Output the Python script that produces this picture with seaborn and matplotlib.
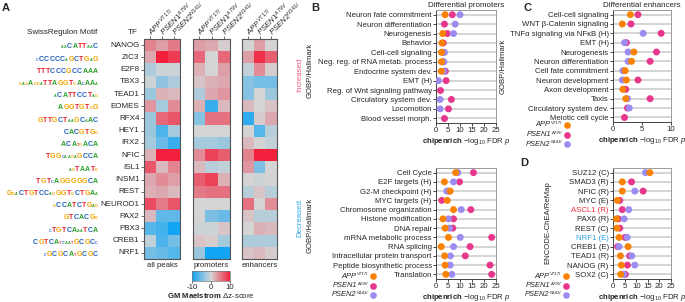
import numpy as np
import pandas as pd
import matplotlib
matplotlib.use("Agg")
import matplotlib.pyplot as plt
from matplotlib.colors import LinearSegmentedColormap
from matplotlib.lines import Line2D
import seaborn as sns

nan = np.nan

# ---- panel A: motif heatmaps ----
tfs = ["NANOG", "ZIC3", "E2F8", "TBX3", "TEAD1", "EOMES", "RFX4", "HEY1", "IRX2",
       "NFIC", "ISL1", "INSM1", "REST", "NEUROD1", "PAX2", "PBX3", "CREB1", "NRF1"]
motifs = ["aaCATTaaC", "cCCCCCaGCTGaG", "TTTCCCGCCAAA", "gagAggaTTAGGTgAcAAa",
          "aCATTCCTag", "AGGTGTgG", "GTTGCTaaGCaAC", "CACGTGg", "ACAtgACA",
          "TGGcaagaGCCA", "agTAATg", "TGTcAGGGGGCA", "GgaCTGTCCagGGTgCTGAa",
          "gCCATCTGag", "GTCACGg", "cTGTCAaaTCA", "CGTCAtcaatGCGCc", "cGCGCAtGCGC"]
genotypes = ["APP", "PSEN1", "PSEN2"]
mutations = ["V717I", "A79V", "N141I"]
geno_labels = [r"$\mathit{APP}^{\mathit{V717I}}$",
               r"$\mathit{PSEN1}^{\mathit{A79V}}$",
               r"$\mathit{PSEN2}^{\mathit{N141I}}$"]

allpeaks = [[4.5, 3, 5], [2.5, 10, 8.5], [-2, -0.5, -0.5], [-0.5, -3.5, -2],
            [-3, 2, 1.5], [3.5, -2.5, 4], [-3, 6, 7], [-3, -7, -2.5],
            [-2.5, -5.5, -8], [2, 10, 10], [7, 1.5, 4.5], [2.5, 4, 3],
            [2, 2.5, 1.5], [7.5, 5, 7], [1.5, -6, -6], [-6.5, -7.5, -10],
            [-1, -7, -5], [-5, -5.5, -6.5]]
promoters = [[3, 2.5, 0.5], [6, 0, 6], [2, 0, 3], [1, 2, 2.5],
             [-2, 2.5, 3.5], [2, -8, 1.5], [-4, 5.5, 5.5], [0, 0, 0],
             [-2.5, -2.5, -3], [4, 8, 6.5], [1.5, -1.5, -1], [6.5, 8, 2],
             [5, 5.5, 5.5], [0, 0, 0], [0, -4.5, -5.5], [-0.5, -0.5, 1],
             [1, 0.5, -2.5], [-3, -10, -10]]
enhancers = [[0, 3, 0], [3, 9, 6.5], [-1, 4, 0.5], [-4, -5, -5],
             [-4, 0, -3], [1.5, 0, 1], [-8.5, 0.5, 2.5], [0, -6.5, -1.5],
             [1.5, 0, -1], [4.5, 10, 10], [3.5, -4.5, 0], [0, -0.5, 0],
             [-1.5, 1, -1.5], [5.5, 0, 4], [1, -1.5, -1.5], [0, 2, 1.5],
             [-2, -2, -2], [1, 1.5, 0.5]]

# ---- panel B: differential promoters ----
prom_up_terms = ["Neuron fate commitment", "Neuron differentiation", "Neurogenesis",
                 "Behavior", "Cell-cell signaling", "Neg. reg. of RNA metab. process",
                 "Endocrine system dev.", "EMT (H)", "Reg. of Wnt signaling pathway",
                 "Circulatory system dev.", "Locomotion", "Blood vessel morph."]
prom_up_app = [3.8, nan, 2.8, 2.5, 2.3, 2.3, 2.2, nan, nan, nan, nan, nan]
prom_up_psen1 = [6.8, 3.5, 4.7, 3.0, 3.2, 2.8, 3.9, 4.2, 1.7, 6.4, 5.2, 3.5]
prom_up_psen2 = [10.0, 8.0, 7.3, nan, 3.5, 3.3, 3.3, 1.0, nan, 1.7, 1.7, nan]

prom_down_terms = ["Cell Cycle", "E2F targets (H)", "G2-M checkpoint (H)", "MYC targets (H)",
                   "Chromosome organization", "Histone modification", "DNA repair",
                   "mRNA metabolic process", "RNA splicing", "Intracellular protein transport",
                   "Peptide biosynthetic process", "Translation"]
prom_down_app = [8.2, 3.5, 5.9, 4.7, 7.3, 2.9, 3.8, 5.2, 2.2, 3.6, 3.8, 4.1]
prom_down_psen1 = [15.6, 9.8, 5.3, 2.4, 14.5, 7.3, 7.0, 23.2, 14.2, 12.2, 22.5, 23.2]
prom_down_psen2 = [9.1, 7.3, 4.5, nan, 10.5, 5.2, 5.6, 10.1, 7.3, 6.0, 5.9, 6.6]

# ---- panel C: differential enhancers ----
enh_terms = ["Cell-cell signaling", "WNT β-Catenin signaling", "TNFα signaling via NFκB (H)",
             "EMT (H)", "Neurogenesis", "Neuron differentiation", "Cell fate commitment",
             "Neuron development", "Axon development", "Taxis", "Circulatory system dev.",
             "Meiotic cell cycle"]
enh_app = [3.0, 1.6, nan, nan, 3.6, 3.2, 2.1, 2.3, 1.7, 2.2, nan, nan]
enh_psen1 = [4.3, 3.1, 8.3, 2.3, 7.5, 6.4, nan, 4.3, 2.2, 6.4, 2.5, 1.85]
enh_psen2 = [nan, nan, 5.2, 2.0, 2.6, 2.6, 1.7, 1.6, nan, 2.5, 2.8, nan]

# ---- panel D: ENCODE-ChEA/ReMap ----
tf_terms = ["SUZ12 (C)", "SMAD3 (R)", "NFIC (R)", "MYC (E)", "ASCL1 (R)", "PAX6 (R)",
            "REST (C)", "NRF1 (E)", "CREB1 (E)", "TEAD1 (R)", "NANOG (R)", "SOX2 (C)"]
tf_app = [15.9, 4.0, 4.0, 1.9, nan, 1.5, 1.7, 2.6, 6.5, 3.2, 3.6, 3.3]
tf_psen1 = [nan, 8.0, 13.0, 2.9, 4.0, 2.3, 2.9, 5.2, 2.0, 7.2, 6.2, 5.3]
tf_psen2 = [14.0, nan, 9.4, nan, 6.8, 4.8, nan, 6.1, 2.6, 8.1, 9.4, 4.6]

palette = {"APP": "#f98200", "PSEN1": "#e6378c", "PSEN2": "#9c8cf2"}
base_colors = {"A": "#2ca02c", "C": "#1f5fc0", "G": "#f5a300", "T": "#e8202a"}

sns.set_style("ticks")
plt.rcParams["font.family"] = ["Liberation Sans", "DejaVu Sans"]
plt.rcParams["mathtext.fontset"] = "custom"
plt.rcParams["mathtext.rm"] = "Liberation Sans"
plt.rcParams["mathtext.it"] = "Liberation Sans:italic"
plt.rcParams["mathtext.bf"] = "Liberation Sans:bold"
plt.rcParams["axes.unicode_minus"] = False
plt.rcParams["font.size"] = 5.6

W, H = 685, 302
fig = plt.figure(figsize=(W / 100, H / 100), dpi=100)
renderer = fig.canvas.get_renderer()


def px_axes(left, top, right, bottom):
    return fig.add_axes([left / W, 1 - bottom / H, (right - left) / W, (bottom - top) / H])


def ftext(x, y, s, **kw):
    return fig.text(x / W, 1 - y / H, s, **kw)


cmap = LinearSegmentedColormap.from_list("bgr", ["#12a5f4", "#d5d5d5", "#f2203c"])

# heatmaps
hm_top, hm_bot = 39, 259
panels = [("all peaks", allpeaks, 144, 180), ("promoters", promoters, 193, 230),
          ("enhancers", enhancers, 242, 277)]
mappable = None
for i, (name, vals, x0, x1) in enumerate(panels):
    ax = px_axes(x0, hm_top, x1, hm_bot)
    df = pd.DataFrame(vals, index=tfs, columns=genotypes)
    sns.heatmap(df, ax=ax, cmap=cmap, vmin=-10, vmax=10, cbar=False,
                xticklabels=geno_labels, yticklabels=tfs if i == 0 else False)
    mappable = ax.collections[0]
    ax.xaxis.tick_top()
    ax.set_xticklabels(geno_labels, rotation=45, ha="left", va="center",
                       rotation_mode="anchor", fontsize=5.6)
    ax.tick_params(axis="x", length=2, width=0.6, pad=1.5, color="#555555")
    if i == 0:
        ax.set_yticklabels(tfs, rotation=0, fontsize=5.8)
        ax.tick_params(axis="y", length=2.2, width=0.6, pad=1, color="#555555")
    else:
        ax.tick_params(axis="y", length=0)
    ax.set_xlabel(name, fontsize=5.6, labelpad=2)
    ax.xaxis.set_label_position("bottom")
    ax.set_ylabel("")
    for sp in ax.spines.values():
        sp.set_visible(True)
        sp.set_color("#555555")
        sp.set_linewidth(0.8)

cax = px_axes(192, 271, 230, 281)
cb = fig.colorbar(mappable, cax=cax, orientation="horizontal", ticks=[-10, 0, 10])
cb.outline.set_edgecolor("#777777")
cb.outline.set_linewidth(0.5)
cax.tick_params(labelsize=5.6, length=1.5, width=0.5, pad=1)
ftext(211, 296, r"$\mathbf{GM\ Maelstrom}$ Δz-score", ha="center", va="center", fontsize=5.6)

# motif logos as coloured consensus letters, laid out right to left
row_h = (hm_bot - hm_top) / len(tfs)
for i, seq in enumerate(motifs):
    base = hm_top + (i + 0.5) * row_h + 3.2
    x = 98
    for c in reversed(seq):
        size = 5.0 if c.isupper() else 2.7
        t = ftext(x, base, c.upper(), color=base_colors[c.upper()],
                  fontsize=size, fontweight="bold", ha="right", va="baseline")
        x -= t.get_window_extent(renderer).width + 0.3

ftext(62, 33, "SwissRegulon Motif", ha="center", va="center", fontsize=5.8)
ftext(133, 33, "TF", ha="center", va="center", fontsize=5.8)


# dot plots
def dot_panel(ax, terms, app, psen1, psen2, xmax, xticks):
    n = len(terms)
    df = pd.DataFrame({
        "term": terms * 3,
        "value": psen1 + psen2 + app,
        "geno": ["PSEN1"] * n + ["PSEN2"] * n + ["APP"] * n,
    }).dropna()
    sns.stripplot(data=df, x="value", y="term", hue="geno", order=terms,
                  palette=palette, jitter=False, size=5, linewidth=0,
                  ax=ax, legend=False, zorder=3)
    ax.set_xlim(0, xmax)
    ax.set_xticks(xticks)
    ax.yaxis.grid(True, color="#d4d4d4", lw=1.4)
    ax.xaxis.grid(False)
    ax.set_axisbelow(True)
    ax.set_ylabel("")
    ax.set_xlabel(r"$\mathbf{chipenrich}$ $-$log$_{10}$ FDR $p$", fontsize=5.6, labelpad=1)
    ax.tick_params(labelsize=5.6, length=2, width=0.6, pad=1)
    for side in ["left", "bottom"]:
        ax.spines[side].set_color("#444444")
        ax.spines[side].set_linewidth(0.7)
    for side in ["top", "right"]:
        ax.spines[side].set_visible(True)
        ax.spines[side].set_color("#9a9a9a")
        ax.spines[side].set_linewidth(0.7)


def key(x_marker, y_first, step=9.5):
    # gene name in italics with the mutation as a small raised text
    for j, g in enumerate(genotypes):
        y = y_first + j * step
        sup = ftext(x_marker - 5, y + 0.3, mutations[j], ha="right", va="bottom",
                    fontsize=3.2, style="italic")
        w = sup.get_window_extent(renderer).width
        ftext(x_marker - 5 - w, y, g, ha="right", va="center", fontsize=5.4, style="italic")
        fig.add_artist(Line2D([x_marker / W], [1 - y / H], transform=fig.transFigure,
                              marker="o", ms=4.8, mew=0, color=palette[g], ls=""))


axb1 = px_axes(436, 10, 496, 123)
dot_panel(axb1, prom_up_terms, prom_up_app, prom_up_psen1, prom_up_psen2, 25, [0, 5, 10, 15, 20, 25])
axb1.set_title("Differential promoters", fontsize=5.8, pad=2)

axb2 = px_axes(436, 168, 496, 279)
dot_panel(axb2, prom_down_terms, prom_down_app, prom_down_psen1, prom_down_psen2, 25, [0, 5, 10, 15, 20, 25])
key(373, 276)

axc = px_axes(613, 10, 671, 122)
dot_panel(axc, enh_terms, enh_app, enh_psen1, enh_psen2, 10, [0, 5, 10])
axc.set_title("Differential enhancers", fontsize=5.8, pad=2)
key(567, 125)

axd = px_axes(613, 168, 671, 279)
dot_panel(axd, tf_terms, tf_app, tf_psen1, tf_psen2, 25, [0, 5, 10, 15, 20, 25])
for lab in axd.get_yticklabels():
    if lab.get_text() == "ASCL1 (R)":
        lab.set_color("#f0303c")
    elif lab.get_text() == "NRF1 (E)":
        lab.set_color("#2a9fe0")
key(566, 276)

# side labels
ftext(310, 70, "GOBP/Hallmark", rotation=90, ha="center", va="center", fontsize=5.6)
ftext(300, 75, "Increased", rotation=90, ha="center", va="center", fontsize=5.6, color="#f0587a")
ftext(310, 225, "GOBP/Hallmark", rotation=90, ha="center", va="center", fontsize=5.6)
ftext(300, 218, "Decreased", rotation=90, ha="center", va="center", fontsize=5.6, color="#2ea6e6")
ftext(503, 66, "GOBP/Hallmark", rotation=90, ha="center", va="center", fontsize=5.6)
ftext(548, 223, "ENCODE-ChEA/ReMap", rotation=90, ha="center", va="center", fontsize=5.6)

# panel letters
for letter, x, y in [("A", 2, 8), ("B", 311, 8), ("C", 523, 8), ("D", 520, 163)]:
    ftext(x, y, letter, fontsize=8, fontweight="bold", ha="left", va="center")

fig.savefig("out.png", dpi=100)
